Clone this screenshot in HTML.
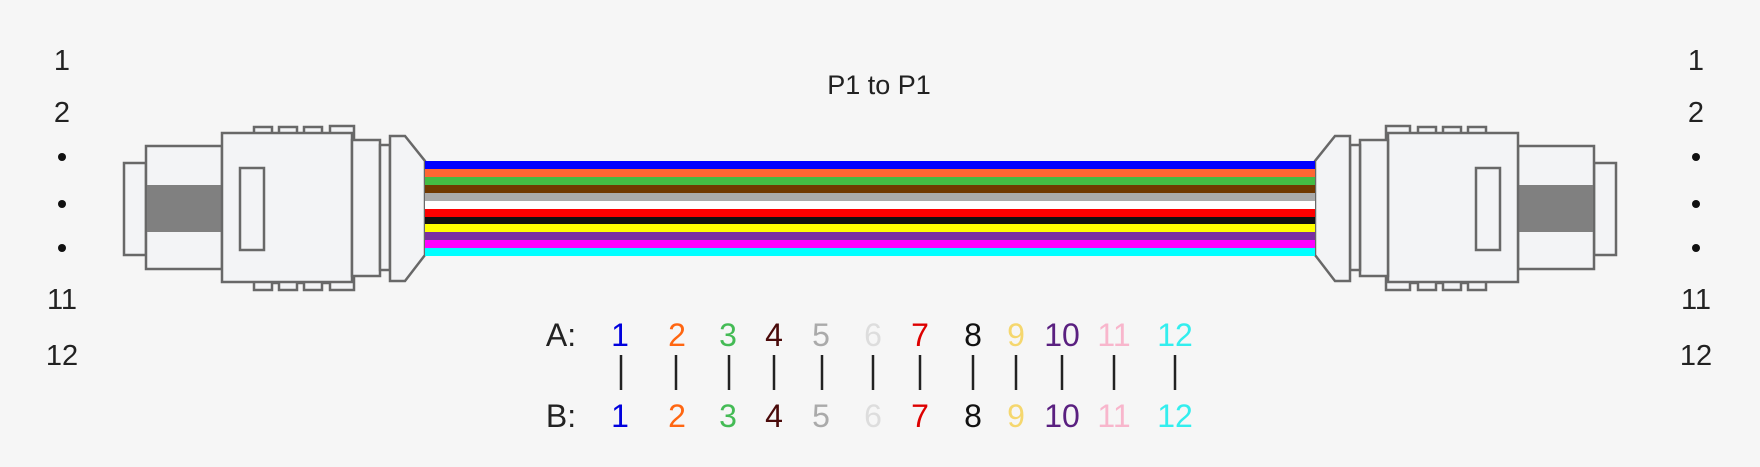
<!DOCTYPE html>
<html><head><style>
html,body{margin:0;padding:0;background:#f6f6f6;}
svg{display:block;}
text{font-family:"Liberation Sans","DejaVu Sans",sans-serif;}
</style></head><body>
<svg width="1760" height="467" viewBox="0 0 1760 467" xmlns="http://www.w3.org/2000/svg">
<rect width="1760" height="467" fill="#f6f6f6"/>
<defs>
<g id="conn" fill="#f3f4f6" stroke="#686868" stroke-width="2.5">
  <rect x="124" y="163" width="22" height="92"/>
  <rect x="146" y="146" width="76" height="123"/>
  <rect x="147" y="185" width="74" height="47" fill="#808080" stroke="none"/>
  <rect x="254" y="127" width="18" height="15"/>
  <rect x="279" y="127" width="18" height="15"/>
  <rect x="304" y="127" width="18" height="15"/>
  <rect x="330" y="126" width="24" height="16"/>
  <rect x="254" y="275" width="18" height="15"/>
  <rect x="279" y="275" width="18" height="15"/>
  <rect x="304" y="275" width="18" height="15"/>
  <rect x="330" y="274" width="24" height="16"/>
  <line x1="272" y1="134" x2="279" y2="134"/><line x1="297" y1="134" x2="304" y2="134"/><line x1="322" y1="134" x2="330" y2="134"/>
  <line x1="272" y1="283" x2="279" y2="283"/><line x1="297" y1="283" x2="304" y2="283"/><line x1="322" y1="283" x2="330" y2="283"/>
  <rect x="222" y="133" width="130" height="149"/>
  <rect x="240" y="168" width="24" height="82"/>
  <rect x="352" y="140" width="28" height="136"/>
  <rect x="380" y="145" width="10" height="125"/>
  <polygon points="390,136 405,136 425,161 425,255 405,281 390,281"/>
</g>
</defs>
<use href="#conn"/>
<use href="#conn" transform="translate(1740,0) scale(-1,1)"/>
<g>
<rect x="425" y="161" width="890" height="8" fill="#0000ff"/>
<rect x="425" y="169" width="890" height="8" fill="#ff6633"/>
<rect x="425" y="177" width="890" height="8" fill="#44bb44"/>
<rect x="425" y="185" width="890" height="8" fill="#703800"/>
<rect x="425" y="193" width="890" height="8" fill="#aaaaaa"/>
<rect x="425" y="201" width="890" height="8" fill="#ffffff"/>
<rect x="425" y="209" width="890" height="8" fill="#ff0000"/>
<rect x="425" y="217" width="890" height="7" fill="#111111"/>
<rect x="425" y="224" width="890" height="8" fill="#ffff00"/>
<rect x="425" y="232" width="890" height="8" fill="#7a2fa0"/>
<rect x="425" y="240" width="890" height="8" fill="#ff00ff"/>
<rect x="425" y="248" width="890" height="8" fill="#00ffff"/>
</g>
<text x="879" y="94" font-size="27" fill="#222" text-anchor="middle">P1 to P1</text>
<g font-size="29" fill="#222" text-anchor="middle">
<text x="62" y="70">1</text><text x="62" y="122">2</text>
<text x="62" y="309">11</text><text x="62" y="365">12</text>
<text x="1696" y="70">1</text><text x="1696" y="122">2</text>
<text x="1696" y="309">11</text><text x="1696" y="365">12</text>
</g>
<g fill="#111">
<circle cx="62" cy="157" r="4"/><circle cx="62" cy="204" r="4"/><circle cx="62" cy="248" r="4"/>
<circle cx="1696" cy="157" r="4"/><circle cx="1696" cy="204" r="4"/><circle cx="1696" cy="248" r="4"/>
</g>
<g font-size="32" text-anchor="middle">
<text x="561" y="346" fill="#222">A:</text>
<text x="561" y="427" fill="#222">B:</text>
<text x="620" y="346" fill="#0000dd">1</text><text x="620" y="427" fill="#0000dd">1</text>
<text x="677" y="346" fill="#ff6611">2</text><text x="677" y="427" fill="#ff6611">2</text>
<text x="728" y="346" fill="#44bb55">3</text><text x="728" y="427" fill="#44bb55">3</text>
<text x="774" y="346" fill="#4a0a0a">4</text><text x="774" y="427" fill="#4a0a0a">4</text>
<text x="821" y="346" fill="#aaaaaa">5</text><text x="821" y="427" fill="#aaaaaa">5</text>
<text x="873" y="346" fill="#dddddd">6</text><text x="873" y="427" fill="#dddddd">6</text>
<text x="920" y="346" fill="#dd0000">7</text><text x="920" y="427" fill="#dd0000">7</text>
<text x="973" y="346" fill="#111111">8</text><text x="973" y="427" fill="#111111">8</text>
<text x="1016" y="346" fill="#f5d76e">9</text><text x="1016" y="427" fill="#f5d76e">9</text>
<text x="1062" y="346" fill="#5a2080">10</text><text x="1062" y="427" fill="#5a2080">10</text>
<text x="1114" y="346" fill="#f8b6cc">11</text><text x="1114" y="427" fill="#f8b6cc">11</text>
<text x="1175" y="346" fill="#33eeee">12</text><text x="1175" y="427" fill="#33eeee">12</text>
</g>
<g stroke="#222" stroke-width="2.5">
<line x1="621" y1="355" x2="621" y2="390"/><line x1="676" y1="355" x2="676" y2="390"/>
<line x1="729" y1="355" x2="729" y2="390"/><line x1="774" y1="355" x2="774" y2="390"/>
<line x1="822" y1="355" x2="822" y2="390"/><line x1="873" y1="355" x2="873" y2="390"/>
<line x1="920" y1="355" x2="920" y2="390"/><line x1="973" y1="355" x2="973" y2="390"/>
<line x1="1016" y1="355" x2="1016" y2="390"/><line x1="1062" y1="355" x2="1062" y2="390"/>
<line x1="1114" y1="355" x2="1114" y2="390"/><line x1="1175" y1="355" x2="1175" y2="390"/>
</g>
</svg>
</body></html>
